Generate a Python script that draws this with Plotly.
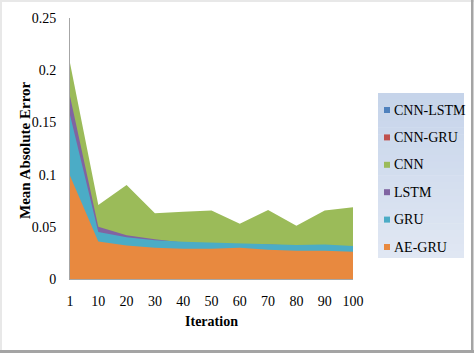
import plotly.graph_objects as go

# ---------------- data ----------------
iterations = ["1", "10", "20", "30", "40", "50", "60", "70", "80", "90", "100"]
series_names = ["CNN-LSTM", "CNN-GRU", "CNN", "LSTM", "GRU", "AE-GRU"]
cnn_lstm = [0.185, 0.060, 0.058, 0.050, 0.048, 0.047, 0.045, 0.046, 0.044, 0.045, 0.046]
cnn_gru = [0.190, 0.062, 0.070, 0.055, 0.053, 0.052, 0.049, 0.055, 0.047, 0.052, 0.055]
cnn = [0.207, 0.071, 0.090, 0.063, 0.0645, 0.0655, 0.053, 0.066, 0.051, 0.0655, 0.0687]
lstm = [0.175, 0.050, 0.042, 0.038, 0.035, 0.034, 0.033, 0.033, 0.032, 0.032, 0.031]
gru = [0.157, 0.045, 0.040, 0.037, 0.0357, 0.035, 0.034, 0.034, 0.0326, 0.033, 0.0316]
ae_gru = [0.099, 0.036, 0.032, 0.030, 0.029, 0.029, 0.030, 0.028, 0.027, 0.027, 0.026]
y_ticks = [0, 0.05, 0.1, 0.15, 0.2, 0.25]

values = [cnn_lstm, cnn_gru, cnn, lstm, gru, ae_gru]
colors = ["#4F81BD", "#C0504D", "#9BBB59", "#8064A2", "#4BACC6", "#E8893F"]

# ---------------- layout geometry (pixels) ----------------
W, H = 474, 353
PL, PR, PT, PB = 70, 353, 18, 279  # plot area


def px_x(px):
    return (px - PL) / (PR - PL)


def px_y(py):
    return (PB - py) / (PB - PT)


SERIF = "Liberation Serif"

fig = go.Figure()
for name, vals, col in zip(series_names, values, colors):
    fig.add_trace(go.Scatter(
        x=iterations, y=vals, name=name, mode="lines",
        line=dict(width=0, color=col), fill="tozeroy", fillcolor=col,
        showlegend=False, hoverinfo="x+y+name",
    ))

shapes = []
annotations = []

# outer frame of the picture
shapes += [
    dict(type="rect", xref="paper", yref="paper", x0=px_x(0), x1=px_x(474), y0=px_y(0), y1=px_y(2),
         fillcolor="#e8e8e8", line_width=0, layer="below"),
    dict(type="rect", xref="paper", yref="paper", x0=px_x(0), x1=px_x(2), y0=px_y(0), y1=px_y(353),
         fillcolor="#e8e8e8", line_width=0, layer="below"),
    dict(type="rect", xref="paper", yref="paper", x0=px_x(471), x1=px_x(473.5), y0=px_y(0), y1=px_y(353),
         fillcolor="#a4a4a4", line_width=0, layer="below"),
    dict(type="rect", xref="paper", yref="paper", x0=px_x(0), x1=px_x(474), y0=px_y(350), y1=px_y(353),
         fillcolor="#a4a4a4", line_width=0, layer="below"),
]

# legend box with a soft vertical gradient
LX0, LX1, LY0, LY1 = 378, 464, 93, 257.5
nb = 24
c_top = (0xC6, 0xD4, 0xEA)
c_bot = (0xE0, 0xE7, 0xF3)
for i in range(nb):
    t = i / (nb - 1)
    c = tuple(round(a + (b - a) * t) for a, b in zip(c_top, c_bot))
    y0 = LY0 + (LY1 - LY0) * i / nb
    y1 = LY0 + (LY1 - LY0) * (i + 1) / nb
    shapes.append(dict(type="rect", xref="paper", yref="paper",
                       x0=px_x(LX0), x1=px_x(LX1), y0=px_y(y0), y1=px_y(y1 + 0.5),
                       fillcolor="rgb(%d,%d,%d)" % c, line_width=0, layer="below"))

row_y0, row_gap = 110, 27.4
for i, (name, col) in enumerate(zip(series_names, colors)):
    cy = row_y0 + i * row_gap
    shapes.append(dict(type="rect", xref="paper", yref="paper",
                       x0=px_x(384), x1=px_x(390), y0=px_y(cy - 3), y1=px_y(cy + 3),
                       fillcolor=col, line_width=0))
    annotations.append(dict(xref="paper", yref="paper", x=px_x(392), y=px_y(cy),
                            xanchor="left", yanchor="middle", showarrow=False, text=name,
                            font=dict(family=SERIF, size=14, color="black")))

# y-axis title
annotations.append(dict(xref="paper", yref="paper", x=px_x(25), y=px_y(150),
                        xanchor="center", yanchor="middle", showarrow=False, textangle=-90,
                        text="<b>Mean Absolute Error</b>",
                        font=dict(family=SERIF, size=15, color="black")))

fig.update_layout(
    width=W, height=H,
    margin=dict(l=PL, r=W - PR, t=PT, b=H - PB, pad=0),
    paper_bgcolor="white", plot_bgcolor="white",
    showlegend=False,
    shapes=shapes, annotations=annotations,
    font=dict(family=SERIF, size=14, color="black"),
    xaxis=dict(
        type="category", range=[0, len(iterations) - 1],
        showgrid=False, zeroline=False, showline=True, linecolor="#a6a6a6", linewidth=1,
        ticks="", ticklabelstandoff=9, tickfont=dict(family=SERIF, size=14, color="black"),
        title=dict(text="<b>Iteration</b>", font=dict(family=SERIF, size=14, color="black"), standoff=8),
        fixedrange=True,
    ),
    yaxis=dict(
        range=[0, 0.25], tickvals=y_ticks, ticktext=[f"{v:g}" for v in y_ticks],
        showgrid=False, zeroline=False, showline=True, linecolor="#a6a6a6", linewidth=1,
        ticks="", ticklabelstandoff=10, tickfont=dict(family=SERIF, size=14, color="black"),
        fixedrange=True,
    ),
)

fig.write_html("out.html")
